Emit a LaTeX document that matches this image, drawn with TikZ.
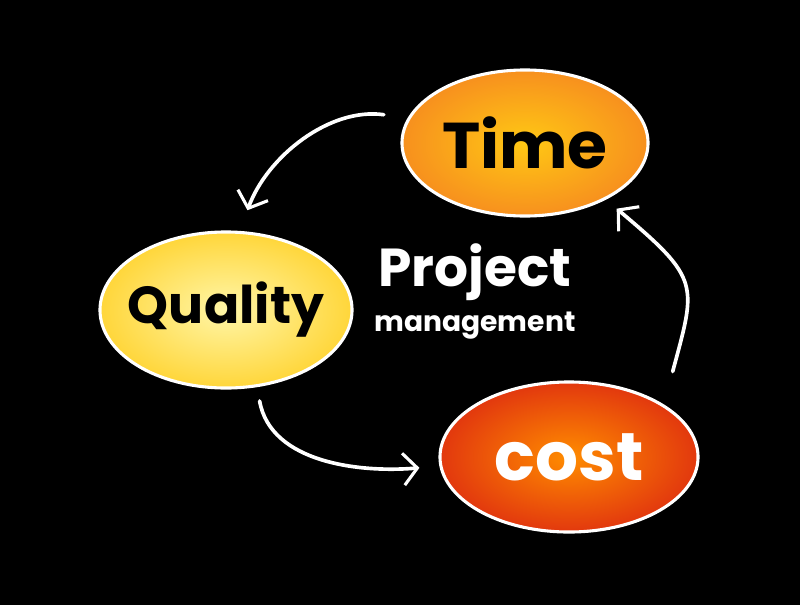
\documentclass[tikz,border=0pt]{standalone}
\usepackage{fontspec}
\setmainfont{Poppins}
\usetikzlibrary{shapes.geometric,arrows.meta,positioning}
\definecolor{timein}{HTML}{FFC814}
\definecolor{timeout}{HTML}{F7901E}
\definecolor{qualin}{HTML}{FFF6A8}
\definecolor{qualout}{HTML}{FFD63A}
\definecolor{costin}{HTML}{FF8C00}
\definecolor{costout}{HTML}{E2380E}
\tikzset{
  topic/.style={ellipse, draw=white, line width=2.2pt, inner sep=0pt, shading=radial},
  flow/.style={draw=white, line width=2.6pt, line cap=round,
    -{Straight Barb[length=3.5mm,width=8mm,line width=2.2pt]}}
}

\begin{document}
\begin{tikzpicture}[x=0.025cm,y=-0.025cm]
    \fill[black] (0,0) rectangle (800,605);
    \node[topic, inner color=timein, outer color=timeout, minimum width=6.15cm, minimum height=3.65cm,
        font=\bfseries\fontsize{46}{46}\selectfont] (time) at (525,143) {Time};
    \node[topic, inner color=qualin, outer color=qualout, minimum width=6.3cm, minimum height=3.9cm,
        inner xsep=-6.5pt, font=\bfseries\fontsize{37}{37}\selectfont] (quality) at (226,310) {Quality};
    \node[topic, inner color=costin, outer color=costout, minimum width=6.45cm, minimum height=3.75cm,
        text=white, font=\bfseries\fontsize{48}{48}\selectfont] (cost) at (569,457) {cost};
    \node[text=white, font=\bfseries\fontsize{38}{38}\selectfont] (proj) at (475,272) {Project};
    \node[text=white, font=\bfseries\fontsize{20}{20}\selectfont, below=1pt of proj] (mgmt) {management};
    \draw[flow, shorten <=0.6cm, shorten >=0.55cm] (time.168) to[out=172,in=70] (quality.80);
    \draw[flow, shorten <=0.35cm, shorten >=0.5cm] (quality.-68) to[out=-80,in=185] (cost.184);
    \draw[flow, shorten <=0.85cm, shorten >=0.35cm] (cost.29) to[out=75,in=-40,looseness=1.5] (time.-35);
\end{tikzpicture}
\end{document}
